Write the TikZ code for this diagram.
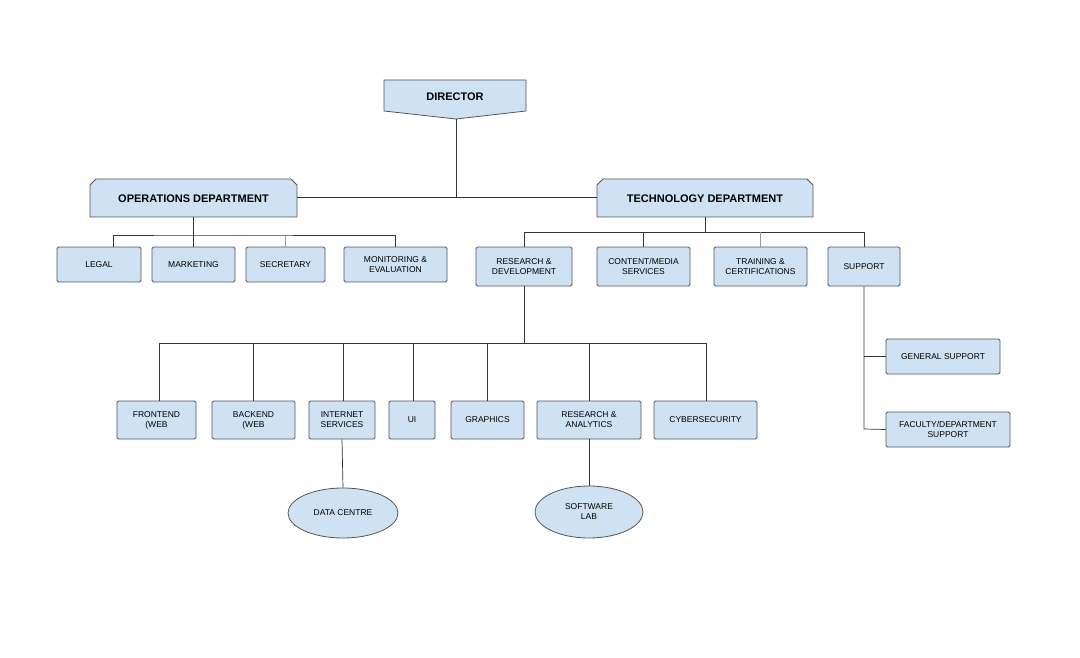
\documentclass[tikz,border=0pt]{standalone}
\usepackage{fontspec}
\setmainfont{Liberation Sans}
\usetikzlibrary{shapes.geometric}
\definecolor{bx}{HTML}{CFE2F3}
\definecolor{bd}{HTML}{555555}
\begin{document}
\begin{tikzpicture}[x=1pt,y=-1pt,
  box/.style={draw=bd,fill=bx,rounded corners=1.5pt,line width=0.8pt,inner sep=0pt,align=center,font=\fontsize{8.5}{10}\selectfont},
  ell/.style={draw=bd,fill=bx,ellipse,line width=0.8pt,inner sep=0pt,align=center,font=\fontsize{8.5}{10}\selectfont},
  ln/.style={draw=black!80,line width=0.7pt}]
\useasboundingbox (0,0) rectangle (1080,658);
% director
\filldraw[draw=bd,fill=bx,line width=0.8pt] (384,80)--(526,80)--(526,111)--(456,119)--(384,111)--cycle;
\node[font=\bfseries\fontsize{11}{12}\selectfont] (dir) at (455,97) {DIRECTOR};
\coordinate (dirb) at (456,119);
% departments
\filldraw[draw=bd,fill=bx,line width=0.8pt] (90,217)--(90,185)--(96,179)--(291,179)--(297,185)--(297,217)--cycle;
\node[font=\bfseries\fontsize{11}{12}\selectfont] (ops) at (193.5,199) {OPERATIONS DEPARTMENT};
\filldraw[draw=bd,fill=bx,line width=0.8pt] (597,217)--(597,185)--(603,179)--(807,179)--(813,185)--(813,217)--cycle;
\node[font=\bfseries\fontsize{11}{12}\selectfont] (tech) at (705,199) {TECHNOLOGY DEPARTMENT};
\coordinate (opsR) at (297,197); \coordinate (techL) at (597,197); \coordinate (mid) at (456,197);
\draw[ln] (dirb)--(mid); \draw[ln] (opsR)--(techL);
% ops children
\node[box,minimum width=84pt,minimum height=35pt] (legal) at (99,264.5) {LEGAL};
\node[box,minimum width=83pt,minimum height=35pt] (mkt) at (193.5,264.5) {MARKETING};
\node[box,minimum width=79pt,minimum height=35pt] (sec) at (285.5,264.5) {SECRETARY};
\node[box,minimum width=103pt,minimum height=35pt] (mon) at (395.5,264.5) {MONITORING \&\\EVALUATION};
\coordinate (opsb) at (193.5,217);
\draw[ln] (opsb)--(mkt.north);
\draw[ln] (legal.north -| 113,0)|-(193.5,235)-|(mon.north);
\draw[ln,black!40] (285.5,235)--(sec.north);
% tech children
\node[box,minimum width=96pt,minimum height=39pt] (rd) at (524,266.5) {RESEARCH \&\\DEVELOPMENT};
\node[box,minimum width=93pt,minimum height=39pt] (cms) at (643.5,266.5) {CONTENT/MEDIA\\SERVICES};
\node[box,minimum width=93pt,minimum height=39pt] (trn) at (760.5,266.5) {TRAINING \&\\CERTIFICATIONS};
\node[box,minimum width=72pt,minimum height=39pt] (sup) at (864,266.5) {SUPPORT};
\draw[ln] (tech.south |- 0,217)--(705,232);
\draw[ln] (rd.north)|-(864,232)--(sup.north);
\draw[ln] (cms.north)--(643.5,232);
\draw[ln,black!40] (trn.north)--(760.5,232);
% R&D children
\foreach \n/\x/\w/\t in {fe/156.5/79/FRONTEND\\(WEB/MOBILE),be/253.5/83/BACKEND\\(WEB/MOBILE),is/342/66/INTERNET\\SERVICES,ui/412/46/UI/UX,gr/487.5/73/GRAPHICS,ra/589/104/RESEARCH \&\\ANALYTICS,cy/705.5/103/CYBERSECURITY}
  {\node[box,minimum width=\w pt,minimum height=38pt,anchor=center] (\n) at (\x,420) {\t};}
\draw[ln] (rd.south)--(524,343);
\draw[ln] (159,401)|-(706,343)--(706,401);
\foreach \x in {253,343,413,487,589}{\draw[ln] (\x,343)--(\x,401);}
\node[ell,minimum width=110pt,minimum height=50pt] (dc) at (343,513) {DATA CENTRE};
\node[ell,minimum width=108pt,minimum height=52pt] (sl) at (589,512) {SOFTWARE\\LAB};
\draw[ln] (is.south)--(dc.north);
\draw[ln] (ra.south)--(sl.north);
% support children
\node[box,minimum width=114pt,minimum height=35pt] (gs) at (943,356.5) {GENERAL SUPPORT};
\node[box,minimum width=124pt,minimum height=35pt] (fd) at (948,429.5) {FACULTY/DEPARTMENT\\SUPPORT};
\draw[ln] (sup.south)--(864,429)--(fd.west);
\draw[ln] (864,356.5)--(gs.west);
\end{tikzpicture}
\end{document}
